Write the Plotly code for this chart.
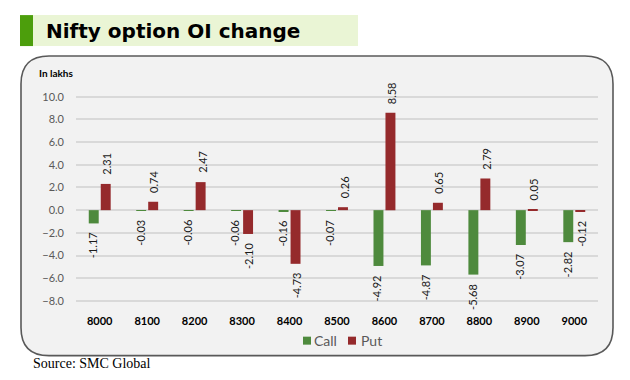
import plotly.graph_objects as go

strikes = ["8000", "8100", "8200", "8300", "8400", "8500", "8600", "8700", "8800", "8900", "9000"]
call_oi = [-1.17, -0.03, -0.06, -0.06, -0.16, -0.07, -4.92, -4.87, -5.68, -3.07, -2.82]
put_oi = [2.31, 0.74, 2.47, -2.10, -4.73, 0.26, 8.58, 0.65, 2.79, 0.05, -0.12]
y_ticks = [-8, -6, -4, -2, 0, 2, 4, 6, 8, 10]

OFF = 8  # page body margin
W, H = 630 - 2 * OFF, 380 - 2 * OFF
# plot area in page pixels
PL, PR, PT, PB = 76, 598, 91, 310.3

def px(x):
    return (x - PL) / (PR - PL)

def py(y):
    return (PB - y) / (PB - PT)

CALL_C, PUT_C = "#4e8a3d", "#952a2c"

fig = go.Figure()
fig.add_trace(go.Bar(x=strikes, y=call_oi, name="Call",
                     marker=dict(color=CALL_C, line=dict(width=0)), showlegend=False))
fig.add_trace(go.Bar(x=strikes, y=put_oi, name="Put",
                     marker=dict(color=PUT_C, line=dict(width=0)), showlegend=False))

annotations = []
for vals, dx in ((call_oi, -7), (put_oi, 7)):
    for i, v in enumerate(vals):
        annotations.append(dict(
            x=i, y=v, xref="x", yref="y", text=f"{v:.2f}", textangle=-90,
            showarrow=False, xshift=dx, yshift=7 if v >= 0 else -7,
            xanchor="center", yanchor="bottom" if v >= 0 else "top",
            font=dict(family="Lato", size=11, color="#1a1a1a")))

# rounded chart frame
L, R, T, B, r = 21, 613, 56, 356, 28
path = (f"M {px(L+r)},{py(T)} L {px(R-r)},{py(T)} Q {px(R)},{py(T)} {px(R)},{py(T+r)} "
        f"L {px(R)},{py(B-r)} Q {px(R)},{py(B)} {px(R-r)},{py(B)} "
        f"L {px(L+r)},{py(B)} Q {px(L)},{py(B)} {px(L)},{py(B-r)} "
        f"L {px(L)},{py(T+r)} Q {px(L)},{py(T)} {px(L+r)},{py(T)} Z")
shapes = [
    dict(type="path", path=path, xref="paper", yref="paper", fillcolor="#f2f2f2",
         line=dict(color="#595959", width=1.6), layer="below"),
    dict(type="rect", xref="paper", yref="paper", x0=px(20), x1=px(358), y0=py(15), y1=py(46),
         fillcolor="#eaf5d5", line=dict(width=0), layer="below"),
    dict(type="rect", xref="paper", yref="paper", x0=px(20), x1=px(33), y0=py(15), y1=py(46),
         fillcolor="#4c9e0c", line=dict(width=0), layer="below"),
    # legend keys
    dict(type="rect", xref="paper", yref="paper", x0=px(303), x1=px(311), y0=py(337), y1=py(345),
         fillcolor=CALL_C, line=dict(width=0)),
    dict(type="rect", xref="paper", yref="paper", x0=px(348), x1=px(356), y0=py(337), y1=py(345),
         fillcolor=PUT_C, line=dict(width=0)),
]

annotations += [
    dict(text="<b>Nifty option OI change</b>", x=px(44), y=py(31), xref="paper", yref="paper",
         xanchor="left", yanchor="middle", showarrow=False,
         font=dict(family="DejaVu Sans", size=20, color="#000000")),
    dict(text="<b>In lakhs</b>", x=px(37), y=py(73), xref="paper", yref="paper",
         xanchor="left", yanchor="middle", showarrow=False,
         font=dict(family="Lato", size=10, color="#000000")),
    dict(text="Source: SMC Global", x=px(32), y=py(372), xref="paper", yref="paper",
         xanchor="left", yanchor="bottom", showarrow=False, borderpad=0,
         font=dict(family="Liberation Serif", size=14, color="#000000")),
    dict(text="Call", x=px(312), y=py(341), xref="paper", yref="paper",
         xanchor="left", yanchor="middle", showarrow=False,
         font=dict(family="Lato", size=14, color="#595959")),
    dict(text="Put", x=px(359), y=py(341), xref="paper", yref="paper",
         xanchor="left", yanchor="middle", showarrow=False,
         font=dict(family="Lato", size=14, color="#595959")),
]

fig.update_layout(
    width=W, height=H,
    margin=dict(l=PL - OFF, r=(630 - OFF) - PR, t=PT - OFF, b=(380 - OFF) - PB, pad=0),
    paper_bgcolor="white", plot_bgcolor="rgba(0,0,0,0)",
    barmode="group", bargap=0.495, bargroupgap=0.17,
    shapes=shapes, annotations=annotations,
    showlegend=False,
    font=dict(family="Lato"),
)
fig.update_xaxes(type="category", range=[-0.5, len(strikes) - 0.5],
                 showgrid=False, showline=False, ticks="", automargin=False,
                 ticklabelstandoff=3,
                 tickfont=dict(family="Lato", size=11, color="#000000", weight="bold"))
fig.update_yaxes(range=[-8.8, 10.5], tickvals=y_ticks, tickformat=".1f", automargin=False,
                 showgrid=True, gridcolor="#d9d9d9", gridwidth=1.5,
                 zeroline=True, zerolinecolor="#d9d9d9", zerolinewidth=1.5,
                 tickfont=dict(family="Lato", size=11, color="#595959"), ticklabelstandoff=11)

fig.write_html("out.html")
